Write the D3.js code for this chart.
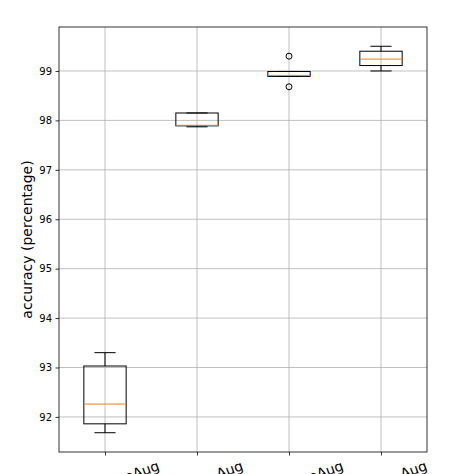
<!DOCTYPE html>
<html>
<head>
<meta charset="utf-8">
<script src="https://cdn.jsdelivr.net/npm/d3@7"></script>
<style>
  body { margin: 0; background: #fff; }
  text { font-family: "DejaVu Sans", sans-serif; }
</style>
</head>
<body>
<div id="chart"></div>
<script>
// groups along the x axis
const groups = ["baseline noAug", "baseline Aug", "baseline noAug", "baseline Aug"];
// box statistics
const whiskerLow = [91.68, 97.87, 98.89, 99.00];
const q1 = [91.86, 97.89, 98.89, 99.11];
const median = [92.26, 97.90, 98.91, 99.24];
const q3 = [93.03, 98.15, 98.99, 99.40];
const whiskerHigh = [93.30, 98.15, 98.99, 99.50];
const outliers = [[], [], [99.30, 98.68], []];
const yTicks = [92, 93, 94, 95, 96, 97, 98, 99];

const W = 474, H = 474;
const margin = {top: 27, right: 47, bottom: 22, left: 59};

let svg = d3.select("#chart").append("svg")
    .attr("width", W)
    .attr("height", H);

let x = d3.scaleLinear().domain([0.5, 4.5]).range([margin.left, W - margin.right]);
let y = d3.scaleLinear().domain([91.29, 99.89]).range([H - margin.bottom, margin.top]);
const positions = groups.map((d, i) => i + 1);

// grid lines
svg.append("g").selectAll("line.gy").data(yTicks).enter().append("line")
    .attr("x1", x(0.5)).attr("x2", x(4.5))
    .attr("y1", d => y(d)).attr("y2", d => y(d))
    .attr("stroke", "#b0b0b0").attr("stroke-width", 0.8);
svg.append("g").selectAll("line.gx").data(positions).enter().append("line")
    .attr("x1", d => x(d)).attr("x2", d => x(d))
    .attr("y1", y.range()[0]).attr("y2", y.range()[1])
    .attr("stroke", "#b0b0b0").attr("stroke-width", 0.8);

// y axis
let yAxis = svg.append("g")
    .attr("transform", "translate(" + margin.left + ",0)")
    .call(d3.axisLeft(y).tickValues(yTicks).tickSize(3.5).tickPadding(3.5).tickFormat(d3.format("d")));
yAxis.select(".domain").remove();
yAxis.selectAll("text").attr("font-size", 10).attr("fill", "#000");
yAxis.selectAll("line").attr("stroke", "#000").attr("stroke-width", 0.8);

// x axis ticks
let xAxis = svg.append("g")
    .attr("transform", "translate(0," + (H - margin.bottom) + ")")
    .call(d3.axisBottom(x).tickValues(positions).tickSize(3.5).tickFormat(""));
xAxis.select(".domain").remove();
xAxis.selectAll("line").attr("stroke", "#000").attr("stroke-width", 0.8);

// rotated x labels (cut off by the bottom edge, as in the original)
const labelTop = H - margin.bottom + 5.5;
groups.forEach((g, i) => {
    let t = svg.append("text")
        .attr("font-size", 14)
        .attr("text-anchor", "middle")
        .attr("dominant-baseline", "central")
        .text(g);
    let L = t.node().getComputedTextLength();
    let h = 16, a = 20 * Math.PI / 180;
    let cy = labelTop + (L * Math.sin(a) + h * Math.cos(a)) / 2;
    t.attr("transform", "translate(" + (x(positions[i]) + 3) + "," + cy + ") rotate(-20)");
});

// boxes
const bw = 0.46, cw = 0.23;
let boxes = svg.append("g").selectAll("g").data(positions).enter().append("g");
boxes.append("line")
    .attr("x1", d => x(d)).attr("x2", d => x(d))
    .attr("y1", (d, i) => y(q3[i])).attr("y2", (d, i) => y(whiskerHigh[i]))
    .attr("stroke", "#000");
boxes.append("line")
    .attr("x1", d => x(d)).attr("x2", d => x(d))
    .attr("y1", (d, i) => y(q1[i])).attr("y2", (d, i) => y(whiskerLow[i]))
    .attr("stroke", "#000");
boxes.append("line")
    .attr("x1", d => x(d - cw / 2)).attr("x2", d => x(d + cw / 2))
    .attr("y1", (d, i) => y(whiskerHigh[i])).attr("y2", (d, i) => y(whiskerHigh[i]))
    .attr("stroke", "#000");
boxes.append("line")
    .attr("x1", d => x(d - cw / 2)).attr("x2", d => x(d + cw / 2))
    .attr("y1", (d, i) => y(whiskerLow[i])).attr("y2", (d, i) => y(whiskerLow[i]))
    .attr("stroke", "#000");
boxes.append("rect")
    .attr("x", d => x(d - bw / 2))
    .attr("width", d => x(d + bw / 2) - x(d - bw / 2))
    .attr("y", (d, i) => y(q3[i]))
    .attr("height", (d, i) => y(q1[i]) - y(q3[i]))
    .attr("fill", "none").attr("stroke", "#000");
boxes.append("line")
    .attr("x1", d => x(d - bw / 2)).attr("x2", d => x(d + bw / 2))
    .attr("y1", (d, i) => y(median[i])).attr("y2", (d, i) => y(median[i]))
    .attr("stroke", "#ff7f0e");
boxes.each(function(d, i) {
    d3.select(this).selectAll("circle").data(outliers[i]).enter().append("circle")
        .attr("cx", x(d)).attr("cy", v => y(v)).attr("r", 3)
        .attr("fill", "none").attr("stroke", "#000");
});

// spines
svg.append("rect")
    .attr("x", x(0.5)).attr("y", margin.top)
    .attr("width", x(4.5) - x(0.5)).attr("height", H - margin.bottom - margin.top)
    .attr("fill", "none").attr("stroke", "#000").attr("stroke-width", 0.8);

// y label
svg.append("text")
    .attr("transform", "translate(27," + (margin.top + (H - margin.bottom - margin.top) / 2) + ") rotate(-90)")
    .attr("text-anchor", "middle")
    .attr("dominant-baseline", "central")
    .attr("font-size", 14)
    .text("accuracy (percentage)");
</script>
</body>
</html>
